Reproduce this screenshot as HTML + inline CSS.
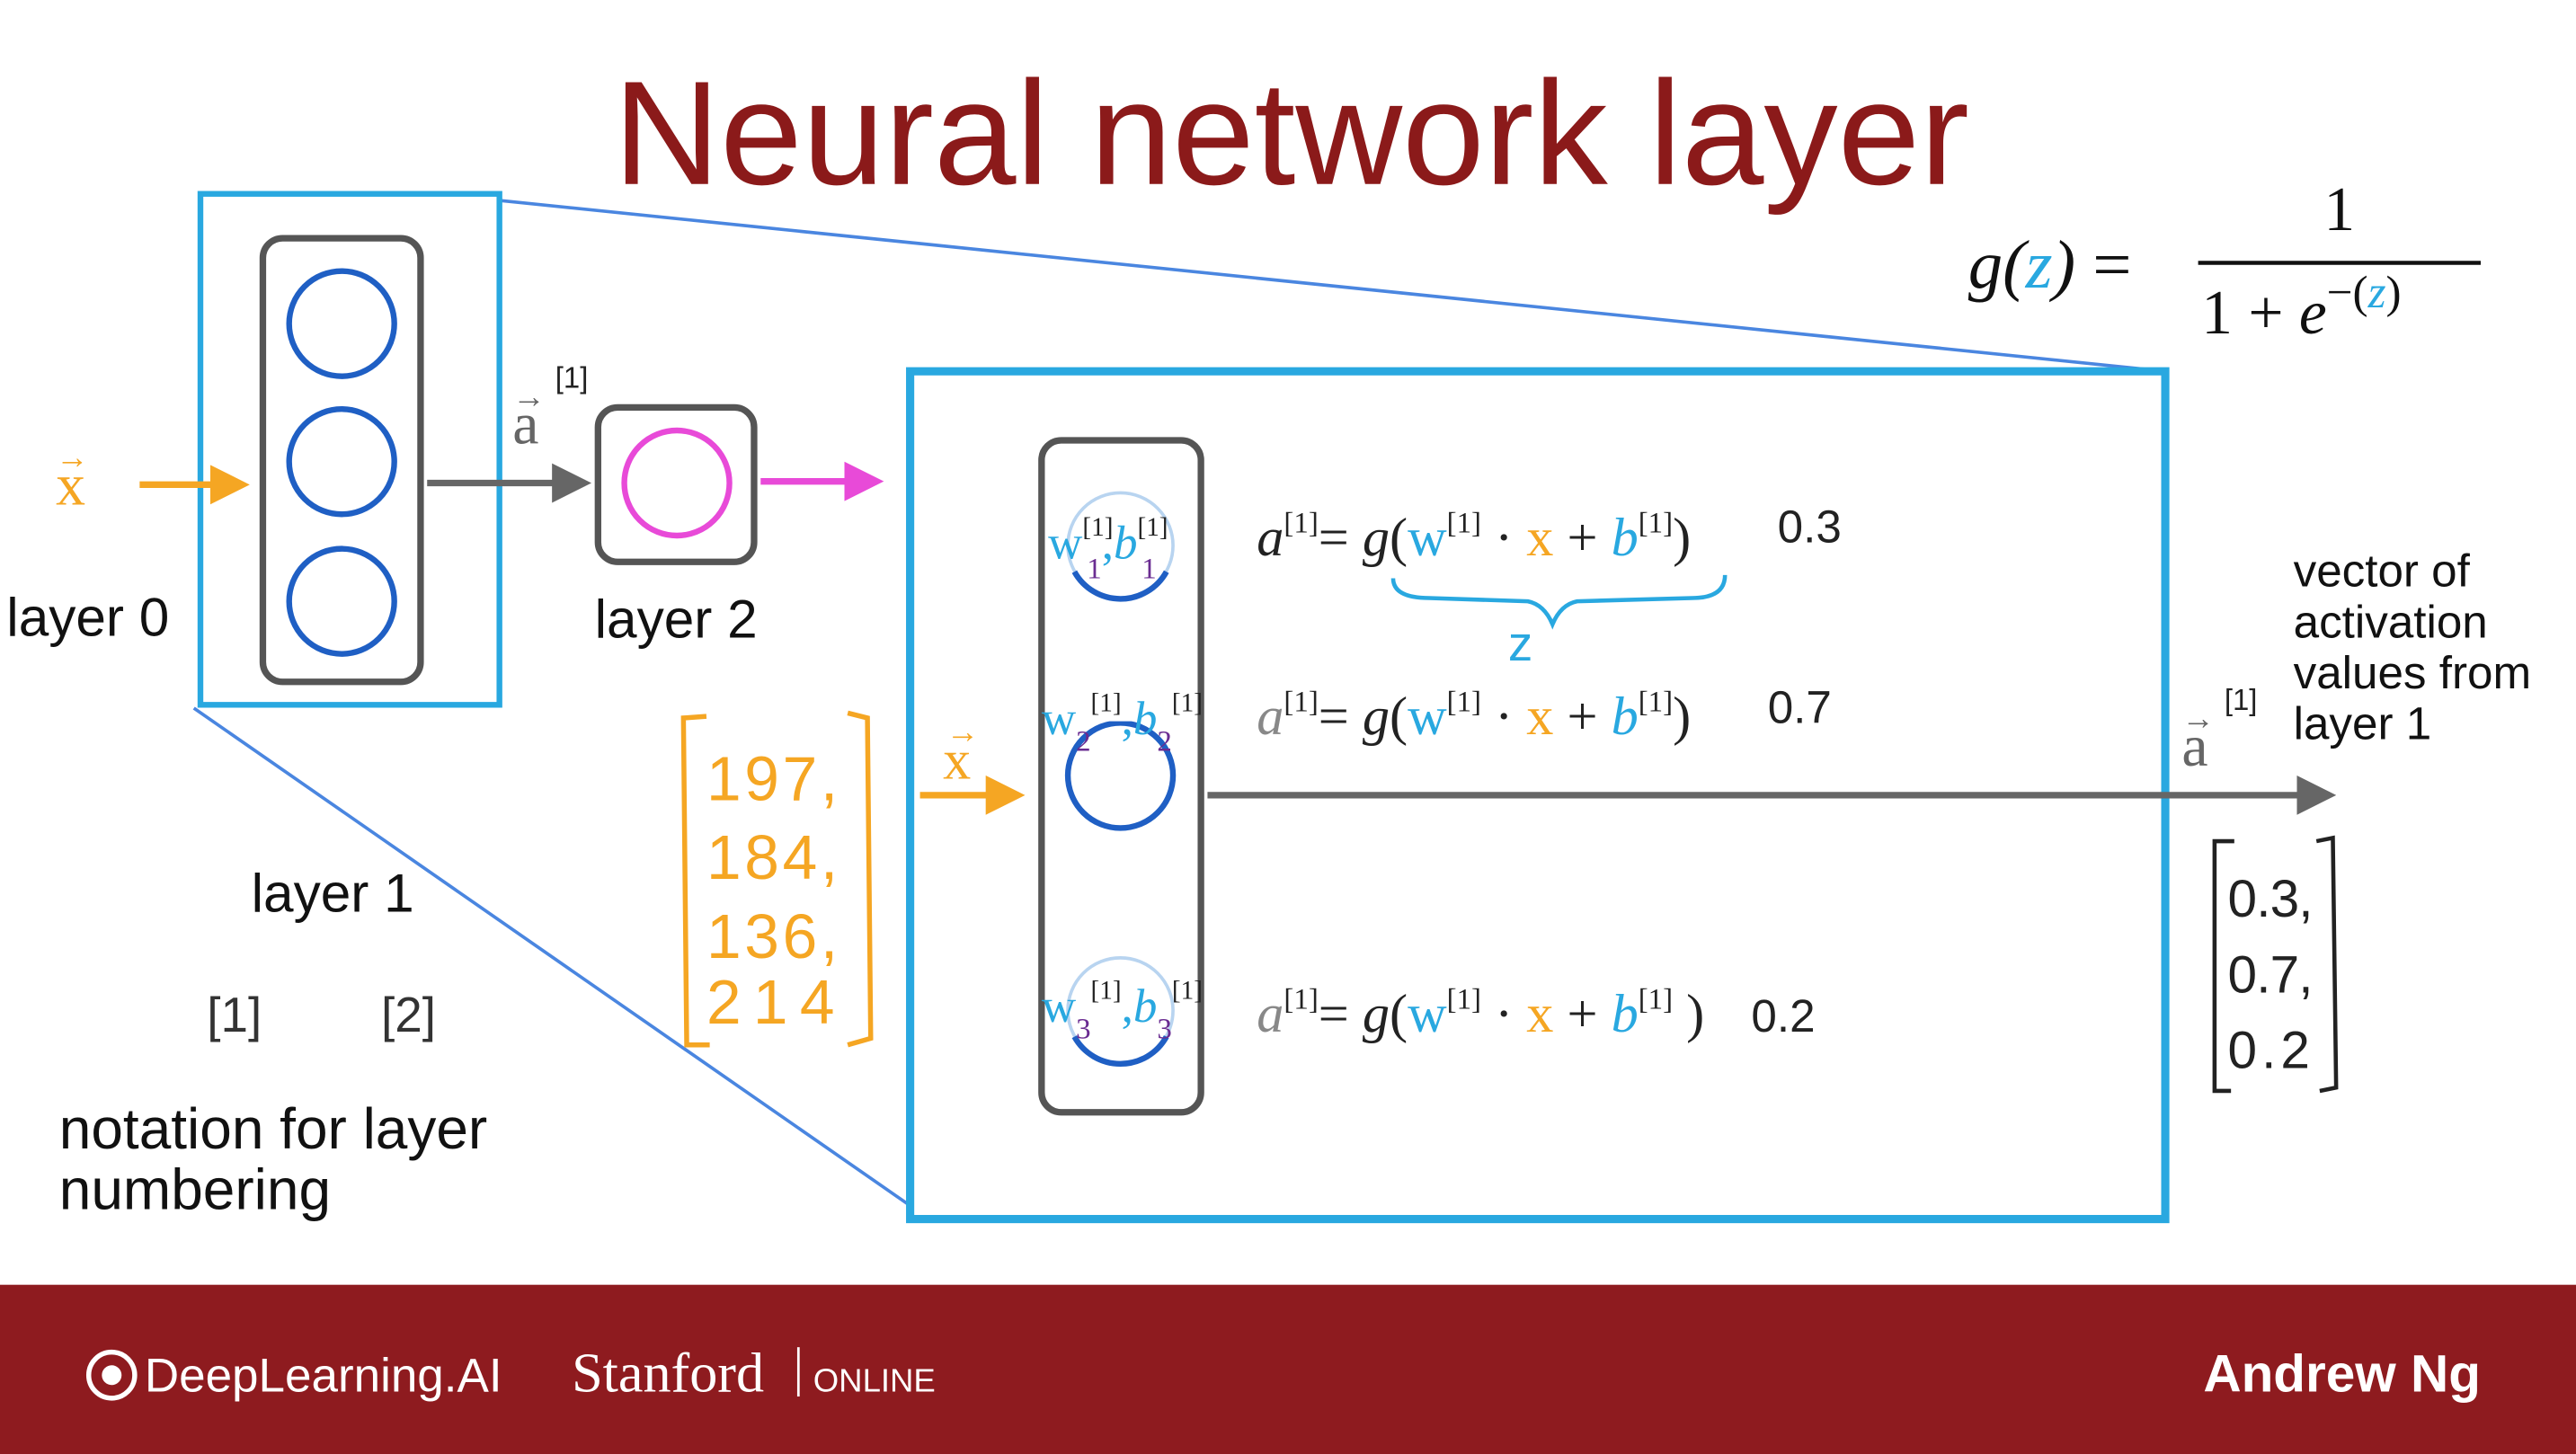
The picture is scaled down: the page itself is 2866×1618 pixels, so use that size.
<!DOCTYPE html>
<html><head><meta charset="utf-8"><style>
html,body{margin:0;padding:0;background:#fff;}
svg{display:block;}
text{font-family:"Liberation Sans",sans-serif;}
.s{font-family:"Liberation Serif",serif;}
.m{font-family:"Liberation Serif",serif;font-style:italic;}
.hw{font-family:"Liberation Sans",sans-serif;}
</style></head><body>
<svg width="2866" height="1618" viewBox="0 0 1568 885" preserveAspectRatio="none" xmlns="http://www.w3.org/2000/svg">
<defs>
<marker id="ao" markerWidth="6" markerHeight="6" refX="5" refY="3" orient="auto"><path d="M0,0 L6,3 L0,6z" fill="#f5a623"/></marker>
<marker id="ag" markerWidth="6" markerHeight="6" refX="5" refY="3" orient="auto"><path d="M0,0 L6,3 L0,6z" fill="#666"/></marker>
<marker id="ap" markerWidth="6" markerHeight="6" refX="5" refY="3" orient="auto"><path d="M0,0 L6,3 L0,6z" fill="#e84ad8"/></marker>
</defs>
<rect width="1568" height="885" fill="#fff"/>
<text x="786" y="112" text-anchor="middle" font-size="90" fill="#8b1a1a">Neural network layer</text>

<!-- g(z) -->
<text x="1198" y="175" class="m" font-size="42" fill="#111">g(<tspan fill="#29a8e0">z</tspan>) <tspan font-style="normal">=</tspan></text>
<line x1="1338" y1="160" x2="1510" y2="160" stroke="#111" stroke-width="2.5"/>
<text x="1424" y="140" font-size="38" text-anchor="middle" fill="#111" class="s">1</text>
<text x="1340" y="203" font-size="38" fill="#111" class="s">1 + <tspan font-style="italic">e</tspan><tspan dy="-16" font-size="28">−(<tspan fill="#29a8e0" font-style="italic">z</tspan>)</tspan></text>

<!-- connecting lines -->
<line x1="304" y1="122" x2="1318" y2="226" stroke="#4a86e0" stroke-width="2"/>
<line x1="118" y1="431" x2="560" y2="738" stroke="#4a86e0" stroke-width="2"/>

<!-- left box -->
<rect x="122" y="118" width="182" height="311" fill="#fff" stroke="#29a8e0" stroke-width="3.5"/>
<rect x="160" y="145" width="96" height="270" rx="12" fill="none" stroke="#555" stroke-width="4"/>
<circle cx="208" cy="197" r="32" fill="none" stroke="#1f5fc4" stroke-width="3.5"/>
<circle cx="208" cy="281" r="32" fill="none" stroke="#1f5fc4" stroke-width="3.5"/>
<circle cx="208" cy="366" r="32" fill="none" stroke="#1f5fc4" stroke-width="3.5"/>

<text x="34" y="307" font-size="36" fill="#f5a623" class="s">x</text>
<text x="34" y="285" font-size="20" fill="#f5a623">→</text>
<line x1="85" y1="295" x2="148" y2="295" stroke="#f5a623" stroke-width="4" marker-end="url(#ao)"/>
<text x="4" y="387" font-size="33" fill="#111">layer 0</text>

<line x1="260" y1="294" x2="356" y2="294" stroke="#666" stroke-width="4" marker-end="url(#ag)"/>
<text x="312" y="270" font-size="36" fill="#666" class="s">a</text>
<text x="312" y="248" font-size="20" fill="#666">→</text>
<text x="338" y="236" font-size="18" fill="#222">[1]</text>

<rect x="364" y="248" width="95" height="94" rx="12" fill="none" stroke="#555" stroke-width="4"/>
<circle cx="412" cy="294" r="32" fill="none" stroke="#e84ad8" stroke-width="3.5"/>
<line x1="463" y1="293" x2="534" y2="293" stroke="#e84ad8" stroke-width="4" marker-end="url(#ap)"/>
<text x="362" y="388" font-size="33" fill="#111">layer 2</text>

<text x="153" y="555" font-size="33" fill="#111">layer 1</text>
<text x="126" y="628" font-size="30" fill="#333">[1]</text>
<text x="232" y="628" font-size="30" fill="#333">[2]</text>
<text x="36" y="699" font-size="35" fill="#111">notation for layer</text>
<text x="36" y="736" font-size="35" fill="#111">numbering</text>

<!-- big box -->
<rect x="554" y="226" width="764" height="516" fill="#fff" stroke="#29a8e0" stroke-width="5"/>

<!-- orange vector -->
<path d="M430,436 L416,437 L418,636 L432,636 M516,434 L528,437 L530,632 L516,636" fill="none" stroke="#f5a623" stroke-width="3"/>
<text x="430" y="487" font-size="38" fill="#f5a623" class="hw" textLength="80">197,</text>
<text x="430" y="535" font-size="38" fill="#f5a623" class="hw" textLength="80">184,</text>
<text x="430" y="583" font-size="38" fill="#f5a623" class="hw" textLength="80">136,</text>
<text x="430" y="623" font-size="38" fill="#f5a623" class="hw" textLength="78">214</text>

<text x="574" y="474" font-size="34" fill="#f5a623" class="s">x</text>
<text x="576" y="452" font-size="20" fill="#f5a623">→</text>
<line x1="560" y1="484" x2="620" y2="484" stroke="#f5a623" stroke-width="4" marker-end="url(#ao)"/>

<rect x="634" y="268" width="97" height="409" rx="12" fill="none" stroke="#555" stroke-width="4"/>
<circle cx="682" cy="332" r="32" fill="none" stroke="#b8d4f0" stroke-width="2"/>
<path d="M654,348 A32,32 0 0 0 710,348" fill="none" stroke="#1f5fc4" stroke-width="3.5"/>
<circle cx="682" cy="472" r="32" fill="none" stroke="#1f5fc4" stroke-width="3.5"/>
<rect x="640" y="415" width="88" height="24" fill="#fff"/>
<circle cx="682" cy="615" r="32" fill="none" stroke="#b8d4f0" stroke-width="2"/>
<path d="M654,631 A32,32 0 0 0 710,631" fill="none" stroke="#1f5fc4" stroke-width="3.5"/>

<line x1="735" y1="484" x2="1418" y2="484" stroke="#666" stroke-width="4" marker-end="url(#ag)"/>

<!-- equations -->
<g font-size="31" class="s">
<text x="638" y="340" fill="#29a8e0" class="s" font-size="29">w<tspan font-size="16" dy="-14" fill="#222">[1]</tspan><tspan font-size="18" dx="-16" dy="26" fill="#6a2c91">1</tspan><tspan dy="-12">,</tspan><tspan font-style="italic">b</tspan><tspan font-size="16" dy="-14" fill="#222">[1]</tspan><tspan font-size="18" dx="-16" dy="26" fill="#6a2c91">1</tspan></text>
<text x="765" y="338" fill="#222" class="s" font-size="33"><tspan font-style="italic">a</tspan><tspan font-size="18" dy="-14">[1]</tspan><tspan dy="14">= <tspan font-style="italic">g</tspan>(<tspan fill="#29a8e0">w</tspan><tspan font-size="18" dy="-14">[1]</tspan><tspan dy="14"> · </tspan><tspan fill="#f5a623">x</tspan> + <tspan fill="#29a8e0" font-style="italic">b</tspan><tspan font-size="18" dy="-14">[1]</tspan><tspan dy="14">)</tspan></tspan></text>
<text x="1082" y="330" fill="#222" class="hw" font-size="28">0.3</text>

<text x="634" y="447" fill="#29a8e0" class="s" font-size="29">w<tspan font-size="18" dy="10" fill="#6a2c91">2</tspan><tspan font-size="16" dy="-24" fill="#222">[1]</tspan><tspan dy="14">,</tspan><tspan font-style="italic">b</tspan><tspan font-size="18" dy="10" fill="#6a2c91">2</tspan><tspan font-size="16" dy="-24" fill="#222">[1]</tspan></text>
<text x="765" y="447" fill="#222" class="s" font-size="33"><tspan font-style="italic" fill="#888">a</tspan><tspan font-size="18" dy="-14">[1]</tspan><tspan dy="14">= <tspan font-style="italic">g</tspan>(<tspan fill="#29a8e0">w</tspan><tspan font-size="18" dy="-14">[1]</tspan><tspan dy="14"> · </tspan><tspan fill="#f5a623">x</tspan> + <tspan fill="#29a8e0" font-style="italic">b</tspan><tspan font-size="18" dy="-14">[1]</tspan><tspan dy="14">)</tspan></tspan></text>
<text x="1076" y="440" fill="#222" class="hw" font-size="28">0.7</text>

<text x="634" y="622" fill="#29a8e0" class="s" font-size="29">w<tspan font-size="18" dy="10" fill="#6a2c91">3</tspan><tspan font-size="16" dy="-24" fill="#222">[1]</tspan><tspan dy="14">,</tspan><tspan font-style="italic">b</tspan><tspan font-size="18" dy="10" fill="#6a2c91">3</tspan><tspan font-size="16" dy="-24" fill="#222">[1]</tspan></text>
<text x="765" y="628" fill="#222" class="s" font-size="33"><tspan font-style="italic" fill="#888">a</tspan><tspan font-size="18" dy="-14">[1]</tspan><tspan dy="14">= <tspan font-style="italic">g</tspan>(<tspan fill="#29a8e0">w</tspan><tspan font-size="18" dy="-14">[1]</tspan><tspan dy="14"> · </tspan><tspan fill="#f5a623">x</tspan> + <tspan fill="#29a8e0" font-style="italic">b</tspan><tspan font-size="18" dy="-14">[1]</tspan><tspan dy="14"> )</tspan></tspan></text>
<text x="1066" y="628" fill="#222" class="hw" font-size="28">0.2</text>
</g>
<path d="M848,352 Q848,364 870,364 L930,366 Q940,368 945,380 Q950,368 960,366 L1030,364 Q1050,364 1050,350" fill="none" stroke="#29a8e0" stroke-width="2.5"/>
<text x="918" y="402" font-size="30" fill="#29a8e0" class="hw">z</text>

<!-- right side -->
<text x="1396" y="357" font-size="28" fill="#111">vector of</text>
<text x="1396" y="388" font-size="28" fill="#111">activation</text>
<text x="1396" y="419" font-size="28" fill="#111">values from</text>
<text x="1396" y="450" font-size="28" fill="#111">layer 1</text>
<text x="1328" y="466" font-size="36" fill="#666" class="s">a</text>
<text x="1328" y="444" font-size="20" fill="#666">→</text>
<text x="1354" y="432" font-size="18" fill="#222">[1]</text>
<path d="M1360,512 L1348,512 L1348,664 L1358,664 M1410,512 L1420,510 L1422,662 L1412,664" fill="none" stroke="#222" stroke-width="2.5"/>
<text x="1356" y="558" font-size="32" fill="#222" class="hw" textLength="52">0.3,</text>
<text x="1356" y="604" font-size="32" fill="#222" class="hw" textLength="52">0.7,</text>
<text x="1356" y="650" font-size="32" fill="#222" class="hw" textLength="50">0.2</text>

<!-- footer -->
<rect x="0" y="782" width="1568" height="103" fill="#8e1b1f"/>
<circle cx="68" cy="837" r="14" fill="none" stroke="#fff" stroke-width="3"/>
<circle cx="68" cy="837" r="6" fill="#fff"/>
<text x="88" y="847" font-size="29" fill="#fff">DeepLearning.AI</text>
<text x="348" y="847" font-size="34" fill="#fff" class="s">Stanford</text>
<line x1="486" y1="820" x2="486" y2="850" stroke="#fff" stroke-width="1.5"/>
<text x="495" y="847" font-size="20" fill="#fff">ONLINE</text>
<text x="1510" y="847" font-size="32" fill="#fff" font-weight="bold" text-anchor="end">Andrew Ng</text>
</svg>
</body></html>
